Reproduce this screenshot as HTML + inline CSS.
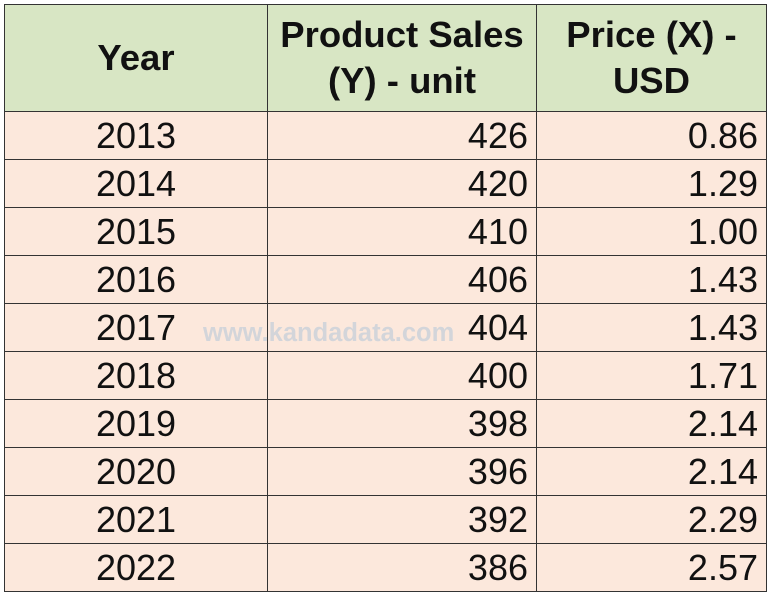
<!DOCTYPE html>
<html><head><style>
body{margin:0;width:768px;height:596px;background:#fff;overflow:hidden;font-family:"Liberation Sans",Arial,sans-serif;}
.t{position:absolute;left:4px;top:4px;border-collapse:collapse;}
td{border:1.5px solid #333;padding:0 8px;font-size:36px;color:#111;background:#fce8dc;height:47px;line-height:47px;box-sizing:border-box;}
th{border:1.5px solid #333;background:#d8e6c4;font-size:36.5px;font-weight:bold;height:107px;line-height:46px;color:#111;padding:0;box-sizing:border-box;}
td.c{text-align:center}
td.r{text-align:right}
.wm{position:absolute;left:203px;top:319px;font-size:25.5px;font-weight:bold;color:#cfd4da;opacity:.9}
</style></head><body>
<table class="t">
<tr><th style="width:263px">Year</th><th style="width:269px">Product Sales<br>(Y) - unit</th><th style="width:230px">Price (X) -<br>USD</th></tr>
<tr><td class="c">2013</td><td class="r">426</td><td class="r">0.86</td></tr>
<tr><td class="c">2014</td><td class="r">420</td><td class="r">1.29</td></tr>
<tr><td class="c">2015</td><td class="r">410</td><td class="r">1.00</td></tr>
<tr><td class="c">2016</td><td class="r">406</td><td class="r">1.43</td></tr>
<tr><td class="c">2017</td><td class="r">404</td><td class="r">1.43</td></tr>
<tr><td class="c">2018</td><td class="r">400</td><td class="r">1.71</td></tr>
<tr><td class="c">2019</td><td class="r">398</td><td class="r">2.14</td></tr>
<tr><td class="c">2020</td><td class="r">396</td><td class="r">2.14</td></tr>
<tr><td class="c">2021</td><td class="r">392</td><td class="r">2.29</td></tr>
<tr><td class="c">2022</td><td class="r">386</td><td class="r">2.57</td></tr>
</table>
<div class="wm">www.kandadata.com</div>
</body></html>
